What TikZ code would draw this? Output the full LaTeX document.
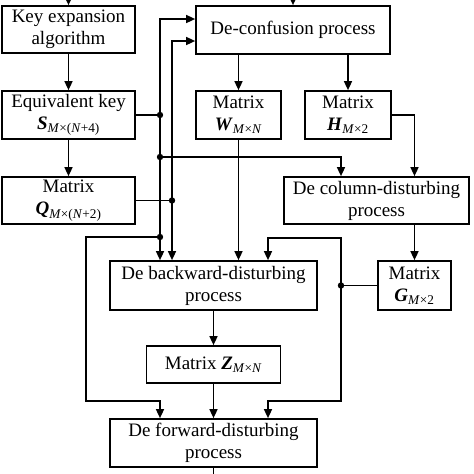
\documentclass[tikz,border=0pt]{standalone}
\usepackage{fontspec}
\setmainfont{Liberation Serif}
\usetikzlibrary{arrows.meta}

\newcommand{\mtx}[2]{\textbf{\textit{#1}}\textsubscript{#2}}

\tikzset{
    box/.style={draw, line width=1.7pt, align=center, inner sep=0pt,
        font=\fontsize{19}{22}\selectfont},
    arr/.style={-{Triangle[length=9pt,width=8pt]}},
    dot/.style={fill=black}
}

\begin{document}
\begin{tikzpicture}[x=1pt, y=-1pt, line width=1.5pt]
    \useasboundingbox (0, 0) rectangle (474, 474);

    \node[box, minimum width=133pt, minimum height=47pt] (keyexp) at (68.5, 29.5) {Key expansion\\algorithm};
    \node[box, minimum width=133pt, minimum height=48pt] (eqkey) at (68.5, 115) {Equivalent key\\\mtx{S}{\textit{M}×(\textit{N}+4)}};
    \node[box, minimum width=133pt, minimum height=47pt] (matq) at (68.5, 200.5) {Matrix\\\mtx{Q}{\textit{M}×(\textit{N}+2)}};

    \node[box, minimum width=194pt, minimum height=48pt] (deconf) at (293, 30) {De-confusion process};
    \node[box, minimum width=85pt, minimum height=48pt] (matw) at (238.5, 115) {Matrix\\\mtx{W}{\textit{M}×\textit{N}}};
    \node[box, minimum width=86pt, minimum height=48pt] (math) at (348, 115) {Matrix\\\mtx{H}{\textit{M}×2}};
    \node[box, minimum width=185pt, minimum height=47pt] (decol) at (376.5, 200.5) {De column-disturbing\\process};

    \node[box, minimum width=207pt, minimum height=49pt] (deback) at (213.5, 285.5) {De backward-disturbing\\process};
    \node[box, minimum width=73pt, minimum height=49pt] (matg) at (414.5, 285.5) {Matrix\\\mtx{G}{\textit{M}×2}};
    \node[box, minimum width=134pt, minimum height=37pt] (matz) at (213.5, 364.5) {Matrix \mtx{Z}{\textit{M}×\textit{N}}};
    \node[box, minimum width=207pt, minimum height=48pt] (defwd) at (213.5, 443) {De forward-disturbing\\process};

    \coordinate (top1) at (68.5, 0);
    \coordinate (top2) at (293, 0);
    \coordinate (out) at (213.5, 474);
    \coordinate (ja) at (160, 115);
    \coordinate (jb) at (160, 157);
    \coordinate (jc) at (160, 237);
    \coordinate (jd) at (172, 200.5);
    \coordinate (je) at (341, 285.5);
    \coordinate (lp) at (86, 401);
    \coordinate (rt) at (341, 238);
    \coordinate (rb) at (341, 401);

    \draw[arr] (top1) -- (keyexp.north);
    \draw[arr] (top2) -- (deconf.north);
    \draw[arr] (keyexp) -- (eqkey);
    \draw[arr] (eqkey) -- (matq);

    \draw (eqkey.east) -- (ja);
    \draw[arr] (ja) |- ([yshift=11pt]deconf.west);
    \draw[arr] (ja) -- (deback.north -| ja);
    \draw[arr] (jb) -| (decol.north -| je);
    \draw[arr] (jc) -| (lp) -| (defwd.north -| jc);

    \draw (matq.east) -- (jd);
    \draw[arr] (jd) |- ([yshift=-11pt]deconf.west);
    \draw[arr] (jd) -- (deback.north -| jd);

    \draw[arr] (deconf.south -| matw) -- (matw);
    \draw[arr] (deconf.south -| math) -- (math);
    \draw[arr] (matw) -- (deback.north -| matw);
    \draw[arr] (math.east) -| (decol.north -| matg);
    \draw[arr] (decol.south -| matg) -- (matg);

    \draw (matg.west) -- (je);
    \draw[arr] (je) -- (rt) -| ([xshift=54.5pt]deback.north);
    \draw[arr] (je) -- (rb) -| ([xshift=54.5pt]defwd.north);

    \draw[arr] (deback) -- (matz);
    \draw[arr] (matz) -- (defwd);
    \draw (defwd.south) -- (out);

    \foreach \j in {ja, jb, jc, jd, je}
        \fill[dot] (\j) circle (3.2pt);
\end{tikzpicture}
\end{document}
